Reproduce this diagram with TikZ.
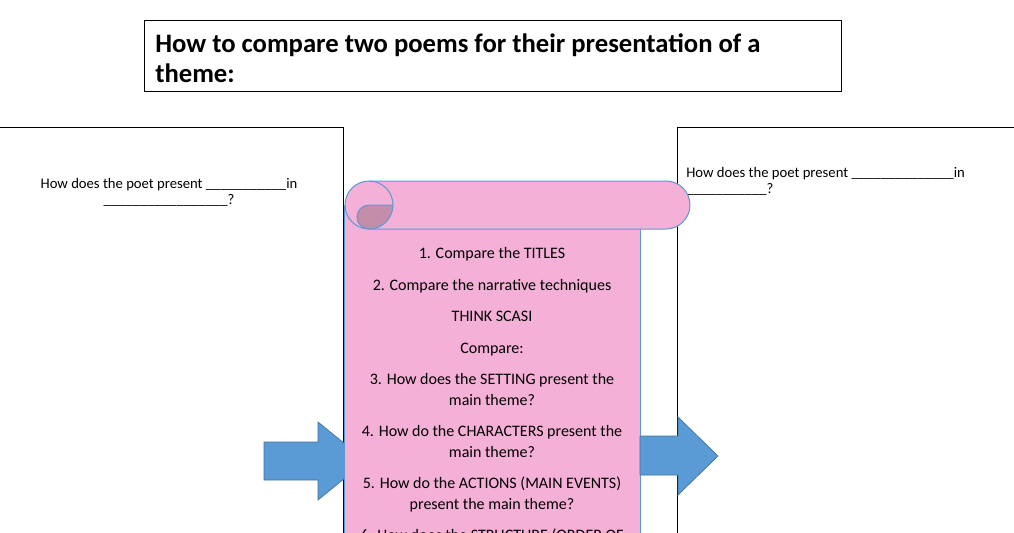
\documentclass[tikz,border=0pt]{standalone}
\usepackage{fontspec}
\setmainfont{Carlito}
\definecolor{scrollpink}{HTML}{F4B0D6}
\definecolor{scrollline}{HTML}{5B9BD5}
\definecolor{curldark}{HTML}{C48DAA}
\definecolor{arrowblue}{HTML}{5B9BD5}
\definecolor{arrowline}{HTML}{41719C}
\tikzset{
  scroll/.style={fill=scrollpink,draw=scrollline,line width=0.75pt},
  curl/.style={fill=curldark,draw=scrollline,line width=0.75pt},
  blockarrow/.style={fill=arrowblue,draw=arrowline,line width=0.5pt},
  frame/.style={draw=black,line width=0.75pt},
  item/.style={font=\fontsize{12}{15.75}\selectfont,align=center,inner sep=0pt,anchor=base},
  ask/.style={font=\fontsize{11}{12}\selectfont,inner sep=0pt,anchor=base}
}
\begin{document}
\begin{tikzpicture}[x=0.75pt,y=-0.75pt]
\useasboundingbox (0,0) rectangle (1014,532);
% title
\draw[frame] (144,20) rectangle (841,91);
\node[anchor=base west,inner sep=0pt,align=left,font=\fontsize{20}{22.5}\bfseries] (title) at (155,82)
  {How to compare two poems for their presentation of a\\theme:};
% the two poems
\draw[frame] (-10,127) -- (343,127) -- (343,560);
\draw[frame] (1030,127) -- (677,127) -- (677,560);
\node[ask,align=center] (leftask) at (169,204)
  {How does the poet present \_\_\_\_\_\_\_\_\_\_\_in\\\_\_\_\_\_\_\_\_\_\_\_\_\_\_\_\_\_?};
\node[ask,anchor=base west,align=left] (rightask) at (686,193)
  {How does the poet present \_\_\_\_\_\_\_\_\_\_\_\_\_\_in\\\_\_\_\_\_\_\_\_\_\_\_?};
% arrow in
\draw[blockarrow] (264,442) -- (318,442) -- (318,422) -- (366,461) -- (318,500) -- (318,480) -- (264,480) -- cycle;
% scroll
\draw[scroll] (344,205) rectangle (640,560);
\draw[scroll] (369,181) -- (666,181) arc[start angle=270,end angle=450,radius=24]
  -- (369,229) arc[start angle=90,end angle=270,radius=24] -- cycle;
\draw[scrollline,line width=0.75pt] (369,181) arc[start angle=270,end angle=360,radius=24];
\draw[curl] (369,205) -- (393,205) arc[start angle=0,end angle=90,radius=24]
  arc[start angle=90,end angle=270,radius=12] -- cycle;
\node[item] (titles) at (492,258) {1. Compare the TITLES};
\node[item] (narrative) at (492,290) {2. Compare the narrative techniques};
\node[item] (scasi) at (492,321) {THINK SCASI};
\node[item] (compare) at (492,353) {Compare:};
\node[item] (setting) at (492,405) {3. How does the SETTING present the\\main theme?};
\node[item] (characters) at (492,457) {4. How do the CHARACTERS present the\\main theme?};
\node[item] (actions) at (492,509) {5. How do the ACTIONS (MAIN EVENTS)\\present the main theme?};
\node[item] (structure) at (492,540) {6. How does the STRUCTURE (ORDER OF};
% arrow out
\draw[blockarrow] (640,436) -- (678,436) -- (678,417) -- (718,456) -- (678,495) -- (678,475) -- (640,475) -- cycle;
\end{tikzpicture}
\end{document}
